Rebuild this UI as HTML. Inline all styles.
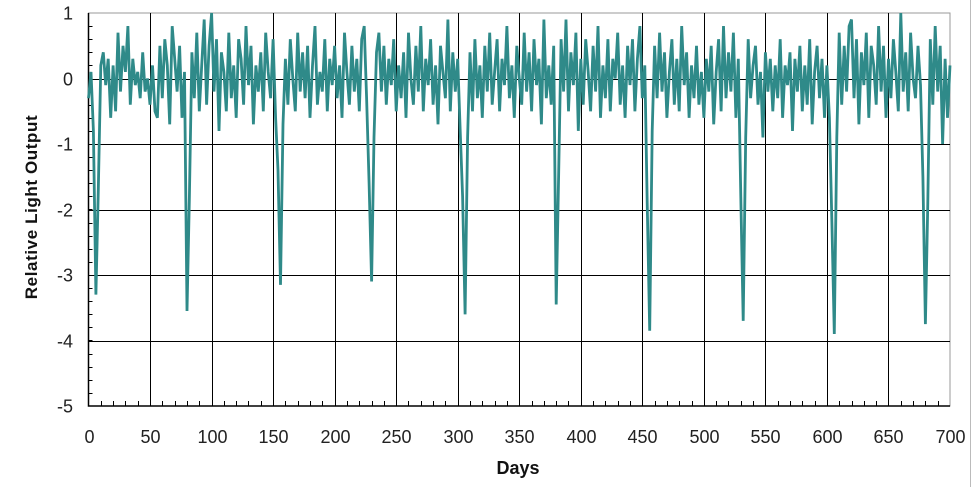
<!DOCTYPE html>
<html><head><meta charset="utf-8"><style>
html,body{margin:0;padding:0;background:#fff;}
svg{display:block;font-family:"Liberation Sans",Arial,sans-serif;}
</style></head><body>
<svg id="chart" width="974" height="487" viewBox="0 0 974 487" xmlns="http://www.w3.org/2000/svg">
<line x1="970.5" y1="0" x2="970.5" y2="487" stroke="#bbb" stroke-width="1"/>
<g id="grid"></g>
<g id="ticks"></g>
<g id="labels" font-size="18" fill="#222"></g>
<g id="series"></g>
<text x="37" y="207" transform="rotate(-90 37 207)" text-anchor="middle" font-size="17" font-weight="bold" letter-spacing="0.6" fill="#111">Relative Light Output</text>
<text x="518" y="474" text-anchor="middle" font-size="18" font-weight="bold" fill="#111">Days</text>
</svg>
<script>
const xTicks=[0,50,100,150,200,250,300,350,400,450,500,550,600,650,700];
const yTicks=[1,0,-1,-2,-3,-4,-5];
const dayStep=2;
const lightValues=[
-0.3,0.1,-0.8,-3.3,-1.7,0.2,0.4,-0.1,0.3,-0.6,
0.2,-0.5,0.7,-0.2,0.5,0.1,0.8,-0.4,0.3,-0.1,
0.1,-0.3,0.4,-0.2,0.0,-0.4,0.2,-0.5,-0.6,0.5,
-0.3,0.6,0.2,-0.7,0.8,0.3,-0.2,0.5,-0.6,0.1,
-3.55,-1.8,0.4,-0.3,0.7,-0.5,0.2,0.9,-0.4,0.5,
1.0,-0.2,0.6,-0.8,0.4,0.1,-0.5,0.7,-0.3,0.2,
-0.6,0.6,0.3,-0.4,0.8,-0.1,0.5,-0.7,0.2,-0.2,
0.4,-0.5,0.7,0.1,-0.3,0.6,-0.6,-1.4,-3.15,-0.7,
0.3,-0.4,0.6,0.0,-0.5,0.7,-0.2,0.4,-0.3,0.5,
-0.6,0.2,0.8,-0.4,0.1,-0.2,0.6,-0.5,0.3,-0.1,
0.5,-0.3,0.2,-0.6,0.7,0.1,-0.4,0.5,-0.2,0.3,
-0.5,0.6,0.8,-0.3,-1.6,-3.1,-0.9,0.4,0.7,-0.2,
0.5,-0.4,0.3,-0.1,0.6,-0.5,0.2,-0.3,0.4,-0.6,
0.7,0.0,-0.4,0.5,-0.2,0.8,-0.5,0.3,-0.1,0.6,
-0.4,0.2,-0.7,0.5,0.1,-0.3,0.9,-0.5,0.4,-0.2,
0.3,-0.8,-1.8,-3.6,-0.9,0.4,-0.5,0.6,-0.3,0.2,
-0.6,0.5,-0.2,0.7,-0.4,0.1,0.6,-0.5,0.3,-0.1,
0.8,-0.3,0.2,-0.6,0.5,0.0,-0.4,0.7,-0.2,0.4,
-0.5,0.6,-0.1,0.3,-0.7,0.9,-0.3,0.2,-0.4,0.5,
-3.45,-1.5,0.6,-0.2,0.9,-0.5,0.4,-0.1,0.7,-0.8,
0.3,-0.4,0.6,0.1,-0.5,0.5,-0.2,0.8,-0.6,0.2,
-0.3,0.6,-0.5,0.3,0.0,0.7,-0.4,0.2,-0.6,0.5,
-0.1,0.6,-0.5,0.3,0.8,-0.3,0.2,-1.9,-3.85,-0.8,
0.5,-0.3,0.7,-0.2,0.4,-0.6,0.1,0.6,-0.4,0.3,
-0.5,0.8,-0.1,0.4,-0.6,0.2,-0.3,0.5,-0.4,0.1,
-0.6,0.3,-0.2,0.5,-0.7,0.1,0.6,-0.5,0.8,-0.3,
0.4,-0.2,0.7,-0.6,0.3,-1.8,-3.7,-0.9,0.6,-0.3,
0.2,0.5,-0.4,0.1,-0.9,0.4,-0.2,0.3,-0.5,0.2,
-0.3,0.6,-0.6,0.2,-0.1,0.4,-0.8,0.3,-0.2,0.5,
-0.5,0.2,-0.4,0.6,-0.7,0.1,0.5,-0.3,0.3,-0.6,
0.2,-0.6,-2.2,-3.9,-0.9,0.7,-0.4,0.5,-0.2,0.8,
0.9,-0.3,0.6,-0.7,0.4,-0.1,0.7,-0.6,0.5,0.2,
-0.4,0.8,-0.2,0.5,-0.6,0.3,-0.3,0.6,0.1,-0.5,
1.0,-0.2,0.4,-0.5,0.7,0.0,-0.3,0.5,-0.1,-1.5,
-3.75,-1.9,0.6,-0.4,0.8,-0.2,0.5,-1.0,0.3,-0.6,
0.2];
const NS="http://www.w3.org/2000/svg";
const L=88.5,R=950,T=13,B=406;
const xScale=d=>L+(d/700)*(R-L);
const yScale=v=>T+(1-v)/6*(B-T);
function mk(tag,attrs,parent){const e=document.createElementNS(NS,tag);for(const k in attrs)e.setAttribute(k,attrs[k]);parent.appendChild(e);return e;}
const grid=document.getElementById('grid'),ticks=document.getElementById('ticks'),labels=document.getElementById('labels'),series=document.getElementById('series');
let fr=mk('rect',{x:L,y:T,width:R-L,height:B-T,fill:'none',stroke:'#999','stroke-width':1},grid);


yTicks.forEach(v=>{
  const y=Math.round(yScale(v))+0.5;
  if(v<1&&v>-5){const g=mk('line',{x1:L,x2:R,y1:y,y2:y,stroke:'#000','stroke-width':1},grid);
  
  }
  const t=mk('text',{x:73,y:y+6,'text-anchor':'end'},labels);t.textContent=v;
  
  
});
xTicks.forEach(d=>{
  const x=Math.round(xScale(d))+0.5;
  if(d>0&&d<700){const g=mk('line',{x1:x,x2:x,y1:T,y2:B,stroke:'#000','stroke-width':1},grid);
  
  }
  const t=mk('text',{x:x,y:443,'text-anchor':'middle'},labels);t.textContent=d;
  
  
});
for(let d=10;d<700;d+=10){const x=Math.round(xScale(d))+0.5;mk('line',{x1:x,x2:x,y1:B,y2:B-5,stroke:'#000'},ticks);}
for(let v=-4.8;v<1;v+=0.2){const y=Math.round(yScale(v))+0.5;mk('line',{x1:L,x2:L+4,y1:y,y2:y,stroke:'#000'},ticks);}
const ax=mk('path',{d:`M${L} ${T} V${B} H${R}`,fill:'none',stroke:'#000','stroke-width':1.5},grid);


const pts=lightValues.map((v,i)=>xScale(i*dayStep).toFixed(1)+','+yScale(v).toFixed(1)).join(' ');
const pl=mk('polyline',{points:pts,fill:'none',stroke:'#2f8a89','stroke-width':2.8,'stroke-linejoin':'miter'},series);


</script>
</body></html>
